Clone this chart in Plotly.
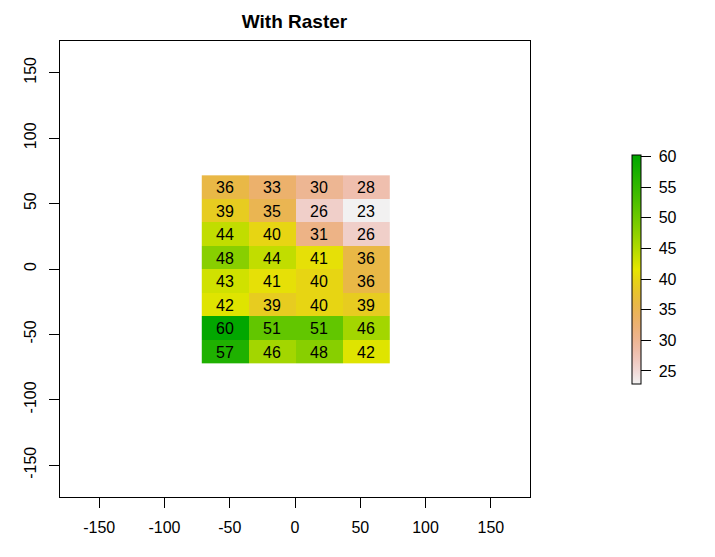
import colorsys
import plotly.graph_objects as go

x_centers = [-53.4, -17.4, 18.6, 54.6]
y_centers = [62.6, 44.6, 26.6, 8.6, -9.4, -27.4, -45.4, -63.4]
values = [
    [36, 33, 30, 28],
    [39, 35, 26, 23],
    [44, 40, 31, 26],
    [48, 44, 41, 36],
    [43, 41, 40, 36],
    [42, 39, 40, 39],
    [60, 51, 51, 46],
    [57, 46, 48, 42],
]
axis_ticks = [-150, -100, -50, 0, 50, 100, 150]
bar_ticks = [25, 30, 35, 40, 45, 50, 55, 60]
zmin, zmax = 22.9, 60.25


def terrain_stops(n=20):
    # R terrain.colors ramp, reversed so low values are pale
    stops = []
    for i in range(n + 1):
        t = i / n
        if t <= 0.5:
            a = t * 2
            h, s, v = (4 - 2 * a) / 12, 1.0, 0.65 + 0.25 * a
        else:
            a = (t - 0.5) * 2
            h, s, v = (2 - 2 * a) / 12, 1.0 - a, 0.90 + 0.05 * a
        r, g, b = colorsys.hsv_to_rgb(h, s, v)
        stops.append([1 - t, f"rgb({round(r*255)},{round(g*255)},{round(b*255)})"])
    return stops[::-1]


FONT = "Liberation Sans, Arial, sans-serif"
TICK_SIZE = 16

fig = go.Figure(
    go.Heatmap(
        x=x_centers,
        y=y_centers,
        z=values,
        text=values,
        texttemplate="%{text}",
        textfont=dict(family=FONT, size=TICK_SIZE, color="black"),
        colorscale=terrain_stops(),
        zmin=zmin,
        zmax=zmax,
        xgap=0,
        ygap=0,
        hoverinfo="skip",
        colorbar=dict(
            thicknessmode="pixels",
            thickness=9,
            lenmode="pixels",
            len=229,
            xref="paper",
            yref="paper",
            x=1.2168,
            xanchor="left",
            y=0.7503,
            yanchor="top",
            xpad=0,
            ypad=0,
            outlinecolor="black",
            outlinewidth=1,
            borderwidth=0,
            tickmode="array",
            tickvals=bar_ticks,
            ticktext=["\u00a0" + str(t) for t in bar_ticks],
            ticks="outside",
            ticklen=10,
            tickwidth=1,
            tickcolor="black",
            tickfont=dict(family=FONT, size=TICK_SIZE, color="black"),
        ),
    )
)

axis_style = dict(
    tickmode="array",
    tickvals=axis_ticks,
    ticktext=[str(t) for t in axis_ticks],
    ticks="outside",
    ticklen=10,
    tickwidth=1,
    tickcolor="black",
    showgrid=False,
    zeroline=False,
    showline=True,
    linecolor="black",
    linewidth=1,
    mirror=True,
    tickfont=dict(family=FONT, size=TICK_SIZE, color="black"),
)

fig.update_layout(
    width=715,
    height=557,
    autosize=False,
    paper_bgcolor="white",
    plot_bgcolor="white",
    margin=dict(l=59.5, r=185, t=40.5, b=60, pad=0),
    title=dict(
        text="<b>With Raster</b>",
        x=294.5 / 715,
        xanchor="center",
        y=1 - 21.5 / 557,
        yanchor="middle",
        font=dict(family=FONT, size=19, color="black"),
    ),
    xaxis=dict(range=[-180, 180], tickangle=0, ticklabelstandoff=6, **axis_style),
    yaxis=dict(range=[-174.3, 174.3], tickangle=-90, ticklabelstandoff=7, **axis_style),
)

fig.write_html(
    "out.html",
    config=dict(displayModeBar=False),
    post_script="document.body.style.margin='0';",
)
